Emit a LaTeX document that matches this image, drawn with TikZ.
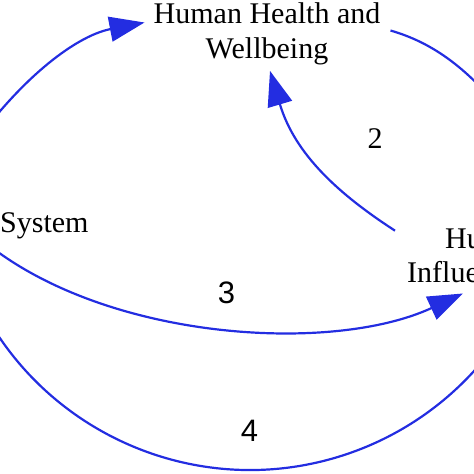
\documentclass[tikz,border=0pt]{standalone}
\usepackage{fontspec}
\setmainfont{Liberation Serif}
\newfontfamily\numfont{Liberation Sans}
\usetikzlibrary{arrows.meta}
\definecolor{loopblue}{RGB}{35,45,225}
\begin{document}
\begin{tikzpicture}[x=1pt,y=-1pt,every node/.style={font=\fontsize{30}{35}\selectfont,inner sep=0pt}]
	\tikzstyle{flow}=[draw=loopblue,line width=2.2pt]
	\tikzstyle{flow arrow}=[flow,-{Triangle[length=35pt,width=25pt]}]
	\tikzstyle{sans num}=[font=\numfont\fontsize{31}{35}\selectfont]
	\useasboundingbox (0,0) rectangle (474,474);
	\clip (0,0) rectangle (474,474);
	\node[inner sep=6pt,align=center] (health) at (267,33.5) {Human Health and\\Wellbeing};
	\node[anchor=base west] (system) at (0,232) {System};
	\node[anchor=base west] (inflA) at (445,248) {Hu};
	\node[anchor=base west] (inflB) at (407,282) {Influe};
	\coordinate (sysA) at (-20,136);
	\coordinate (sysB) at (-20,238);
	\coordinate (sysC) at (-34.7,270.6);
	\coordinate (offright) at (505,115);
	\draw[flow arrow] (sysA) .. controls (30,70) and (80,35) .. ([shift={(-3,-11)}]health.west);
	\draw[flow arrow] ([shift={(-12,-30)}]inflB.north west) .. controls (340,195) and (295,155) .. ([xshift=3pt]health.south);
	\draw[flow] ([shift={(4,-3)}]health.east) .. controls (430,42) and (465,65) .. (offright);
	\draw[flow arrow] (sysB) .. controls (100,340) and (330,355) .. ([shift={(20,11)}]inflB.south);
	\draw[flow] (sysC) arc[start angle=160,end angle=25,radius=303];
	\node (n2) at (375,139) {2};
	\node[sans num] (n3) at (226.5,292.5) {3};
	\node[sans num] (n4) at (249.5,431) {4};
\end{tikzpicture}
\end{document}
